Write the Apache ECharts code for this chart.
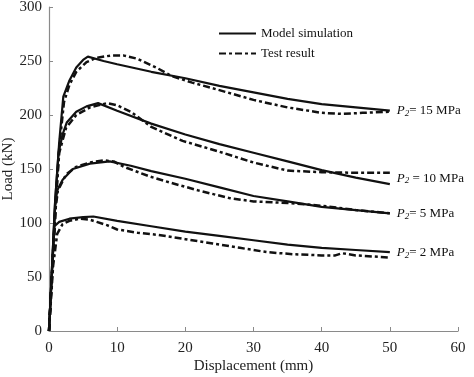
<!DOCTYPE html>
<html>
<head>
<meta charset="utf-8">
<script src="https://cdn.jsdelivr.net/npm/echarts@6/dist/echarts.min.js"></script>
<style>
  html, body { margin: 0; padding: 0; background: #fff; }
  #chart { width: 474px; height: 377px; }
</style>
</head>
<body>
<div id="chart"></div>
<script>
// Displacement (mm), Load (kN)
const model15 = [[0,0],[0.9,120],[1.5,175],[2.1,217],[3,232],[4,244],[5,251],[5.7,254],[8,250],[10,247],[15,240],[20,234],[25,227],[30,221],[35,215],[40,210],[45,207],[50,204]];
const test15 = [[0,0],[0.9,110],[1.5,170],[2.2,212],[3,228],[4,240],[5.5,249],[7,253],[9,255],[11,255],[13,252],[16,243],[18,236],[21,230],[25,223],[30,214],[35,207],[40,202],[43,201],[46,202],[50,203]];

const model10 = [[0,0],[0.9,120],[1.4,165],[2,182],[2.6,193],[4,203],[5.5,208],[7.2,211],[10,204],[15,192],[20,182],[25,173],[30,165],[35,157],[40,149],[45,142],[50,136]];
const test10 = [[0,0],[1,120],[1.5,165],[2.5,188],[4,200],[6,207],[8.5,211],[10,209],[12,203],[15,189],[19.6,176],[25,166],[30,156],[35,148.5],[40,147],[45,146.5],[50,146.5]];

const model5 = [[0,0],[0.9,115],[1.2,130],[2,140],[3.5,150],[6,155],[8.9,157],[12,153],[15,148],[20,141],[25,133],[30,125],[35,120],[40,115],[45,112],[50,109]];
const test5 = [[0,0],[1,115],[1.3,130],[2.5,145],[4,152],[6,156],[8,158],[9.5,157],[11,152],[14.8,143],[18,137],[22,130],[26.5,123],[30,120],[35,118.5],[40,116],[45,112],[50,109]];

const model2 = [[0,0],[0.8,97],[1.5,101],[3,104],[5,105.5],[6.5,106],[10,102],[15,97],[20,92],[25,88],[30,84],[35,80],[40,77],[45,75],[50,73]];
const test2 = [[0,0],[0.6,60],[1.2,90],[2,99],[3,102],[4.5,104],[6,103],[7,101],[8.5,98],[10,94],[13,91],[16,89],[20,85],[24,81],[28,77],[32,73],[36,71],[40,70],[42,70],[43,72],[45,70],[50,68]];

const pressureLabels = ['{i|P}{s|2}= 15 MPa', '{i|P}{s|2} = 10 MPa', '{i|P}{s|2}= 5 MPa', '{i|P}{s|2}= 2 MPa'];
const labelShift = [0, -6, 0, 0];

const FONT = 'Liberation Serif';
const INK = '#111';

function modelSeries(data, idx) {
  return {
    name: 'Model simulation',
    type: 'line',
    data: data,
    symbol: 'none',
    z: 3,
    lineStyle: { color: INK, width: 2.2 },
    itemStyle: { color: INK },
    endLabel: {
      show: true,
      formatter: pressureLabels[idx],
      distance: 7,
      offset: [0, labelShift[idx]],
      color: INK,
      fontFamily: FONT,
      fontSize: 13,
      rich: {
        i: { fontStyle: 'italic', fontFamily: FONT, fontSize: 13, color: INK },
        s: { fontStyle: 'italic', fontFamily: FONT, fontSize: 9, color: INK, verticalAlign: 'bottom', padding: [6, 0, 0, 0] }
      }
    }
  };
}

function testSeries(data) {
  return {
    name: 'Test result',
    type: 'line',
    data: data,
    symbol: 'none',
    z: 2,
    lineStyle: { color: INK, width: 2.5, type: [7, 3, 3, 3] },
    itemStyle: { color: INK }
  };
}

const chart = echarts.init(document.getElementById('chart'));

const axisCommon = {
  axisLine: { show: true, lineStyle: { color: '#8a8a8a', width: 1.2 } },
  axisTick: { show: true, inside: true, length: 4, lineStyle: { color: '#8a8a8a' } },
  splitLine: { show: false },
  axisLabel: { color: '#222', fontFamily: FONT, fontSize: 15, margin: 7 },
  nameTextStyle: { color: '#222', fontFamily: FONT, fontSize: 15 },
  nameMoveOverlap: false
};

chart.setOption({
  animation: false,
  backgroundColor: '#fff',
  grid: { left: 49, right: 16, top: 7, bottom: 46, containLabel: false, outerBoundsMode: 'none' },
  legend: {
    data: ['Model simulation', 'Test result'],
    orient: 'vertical',
    left: 218,
    top: 27,
    padding: 0,
    itemWidth: 37,
    itemHeight: 14,
    itemGap: 7,
    itemStyle: { opacity: 0 },
    textStyle: { color: INK, fontFamily: FONT, fontSize: 13 }
  },
  xAxis: Object.assign({}, axisCommon, {
    type: 'value',
    min: 0, max: 60, interval: 10,
    name: 'Displacement (mm)',
    nameLocation: 'middle',
    nameGap: 28,
    axisLabel: { color: '#222', fontFamily: FONT, fontSize: 15, margin: 10 }
  }),
  yAxis: Object.assign({}, axisCommon, {
    type: 'value',
    min: 0, max: 300, interval: 50,
    name: 'Load (kN)',
    nameLocation: 'middle',
    nameGap: 33
  }),
  series: [
    modelSeries(model15, 0), testSeries(test15),
    modelSeries(model10, 1), testSeries(test10),
    modelSeries(model5, 2), testSeries(test5),
    modelSeries(model2, 3), testSeries(test2)
  ]
});
</script>
</body>
</html>
